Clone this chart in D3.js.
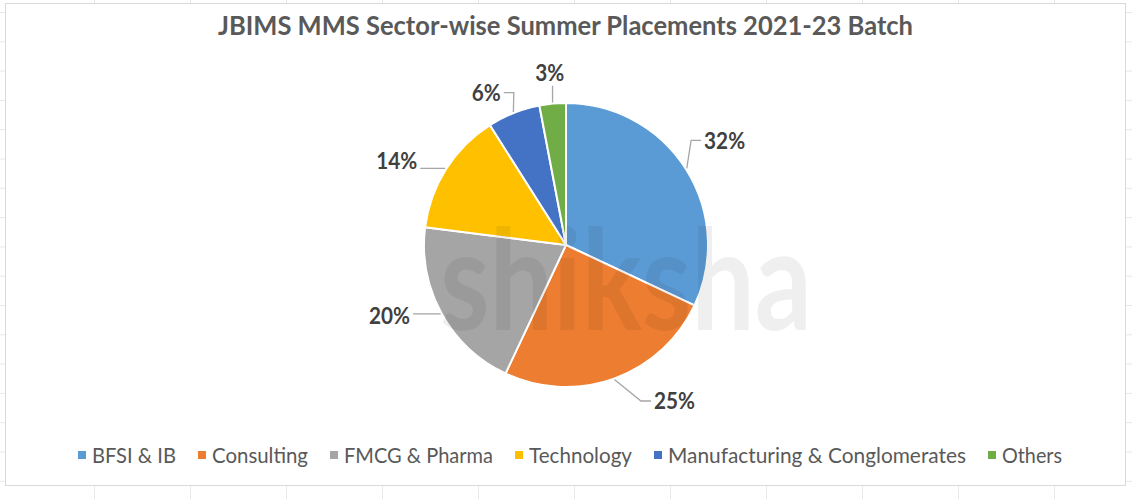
<!DOCTYPE html>
<html><head><meta charset="utf-8">
<script src="https://cdn.jsdelivr.net/npm/d3@7"></script>
<style>html,body{margin:0;padding:0;background:#fff;overflow:hidden}</style>
</head><body>
<svg id="c" width="1132" height="499"></svg>
<script>
const title = "JBIMS MMS Sector-wise Summer Placements 2021-23 Batch";
const categories = ["BFSI & IB","Consulting","FMCG & Pharma","Technology","Manufacturing & Conglomerates","Others"];
const values = [32,25,20,14,6,3];
const colors = ["#5B9BD5","#ED7D31","#A5A5A5","#FFC000","#4472C4","#70AD47"];
// label placement nudges (degrees) relative to slice mid-angle
const labelNudge = [-1,-15,7,-6,-6,0];
const labelDist = [190,190,190,189,172,173];

const svg = d3.select("#c");
const W=1132,H=499;
// sheet gridlines behind
const g0 = svg.append("g");
d3.range(-2,12).forEach(k=>{const x=94+96*k+0.5;g0.append("line").attr("x1",x).attr("x2",x).attr("y1",0).attr("y2",H).attr("stroke","#e8e8e8");});
d3.range(-1,18).forEach(k=>{const y=12+29.3*k+0.5;g0.append("line").attr("x1",0).attr("x2",W).attr("y1",y).attr("y2",y).attr("stroke","#e8e8e8");});
svg.append("rect").attr("x",5.5).attr("y",3.5).attr("width",1120).attr("height",482).attr("fill","#fff").attr("stroke","#d9d9d9").attr("stroke-width",1);

// title
svg.append("text").text(title).attr("x",565.5).attr("y",35).attr("text-anchor","middle")
  .attr("font-family","Lato, 'Open Sans', sans-serif").attr("font-weight","bold").attr("font-size",26.5).attr("fill","#595959")
  .attr("textLength",695).attr("lengthAdjust","spacingAndGlyphs");

const cx=566, cy=245, R=142;
const pie = d3.pie().sort(null).value(d=>d);
const arcs = pie(values);
const arc = d3.arc().innerRadius(0).outerRadius(R);
const gp = svg.append("g").attr("transform",`translate(${cx},${cy})`);
gp.selectAll("path").data(arcs).join("path").attr("d",arc).attr("fill",(d,i)=>colors[i]).attr("stroke","#fff").attr("stroke-width",2).attr("stroke-linejoin","round");

// watermark
svg.append("text").text("shiksha").attr("x",440).attr("y",330).attr("font-family","Lato, sans-serif").attr("font-weight","bold")
  .attr("font-size",140).attr("textLength",372).attr("lengthAdjust","spacingAndGlyphs").attr("fill","#000").attr("opacity",0.06);

// labels
const total = d3.sum(values);
const gl = svg.append("g");
arcs.forEach((d,i)=>{
  const mid=(d.startAngle+d.endAngle)/2;
  const la = mid + labelNudge[i]*Math.PI/180;
  const lx = cx + labelDist[i]*Math.sin(la), ly = cy - labelDist[i]*Math.cos(la);
  const s = Math.round(values[i]/total*100)+"%";
  const txt = gl.append("text").text(s).attr("x",lx).attr("y",ly).attr("dy","0.36em")
    .attr("text-anchor","middle").attr("font-family","Lato, sans-serif").attr("font-weight","bold").attr("font-size",23).attr("fill","#404040")
    .attr("textLength",s.length===3?41:29).attr("lengthAdjust","spacingAndGlyphs");
  const bb = txt.node().getBBox();
  const pad=3;
  const x0=bb.x-pad,x1=bb.x+bb.width+pad,y0=ly-10-pad,y1=ly+10+pad;
  const sx = cx + (R+1)*Math.sin(mid), sy = cy - (R+1)*Math.cos(mid);
  const tx = Math.max(x0,Math.min(x1,sx)), ty = Math.max(y0,Math.min(y1,sy));
  let pts;
  if ((tx===x0||tx===x1) && Math.abs(sy-ty)>6) {
    const dir = tx===x0?-1:1;
    pts=[[sx,sy],[tx+dir*10,ly],[tx,ly]];
  } else pts=[[sx,sy],[tx,ty]];
  gl.append("path").attr("d",d3.line()(pts)).attr("fill","none").attr("stroke","#a6a6a6").attr("stroke-width",1.3);
});

// legend
const lg = svg.append("g");
const fs=20.5;
const items = categories.map((c,i)=>{
  const tt = lg.append("text").text(c).attr("font-family","Lato, sans-serif").attr("font-size",fs).attr("fill","#595959").attr("y",463);
  return {tt};
});
const sq=8, gapSq=6, gapItem=22;
const targetW=[84,96,149,103,298,60];
let x = 570 - (d3.sum(targetW)+items.length*(sq+gapSq)+(items.length-1)*gapItem)/2;
items.forEach((it,i)=>{
  lg.append("rect").attr("x",x).attr("y",451).attr("width",sq).attr("height",sq).attr("fill",colors[i]);
  it.tt.attr("x",x+sq+gapSq).attr("textLength",targetW[i]).attr("lengthAdjust","spacingAndGlyphs");
  x += sq+gapSq+targetW[i]+gapItem;
});
</script>
</body></html>
